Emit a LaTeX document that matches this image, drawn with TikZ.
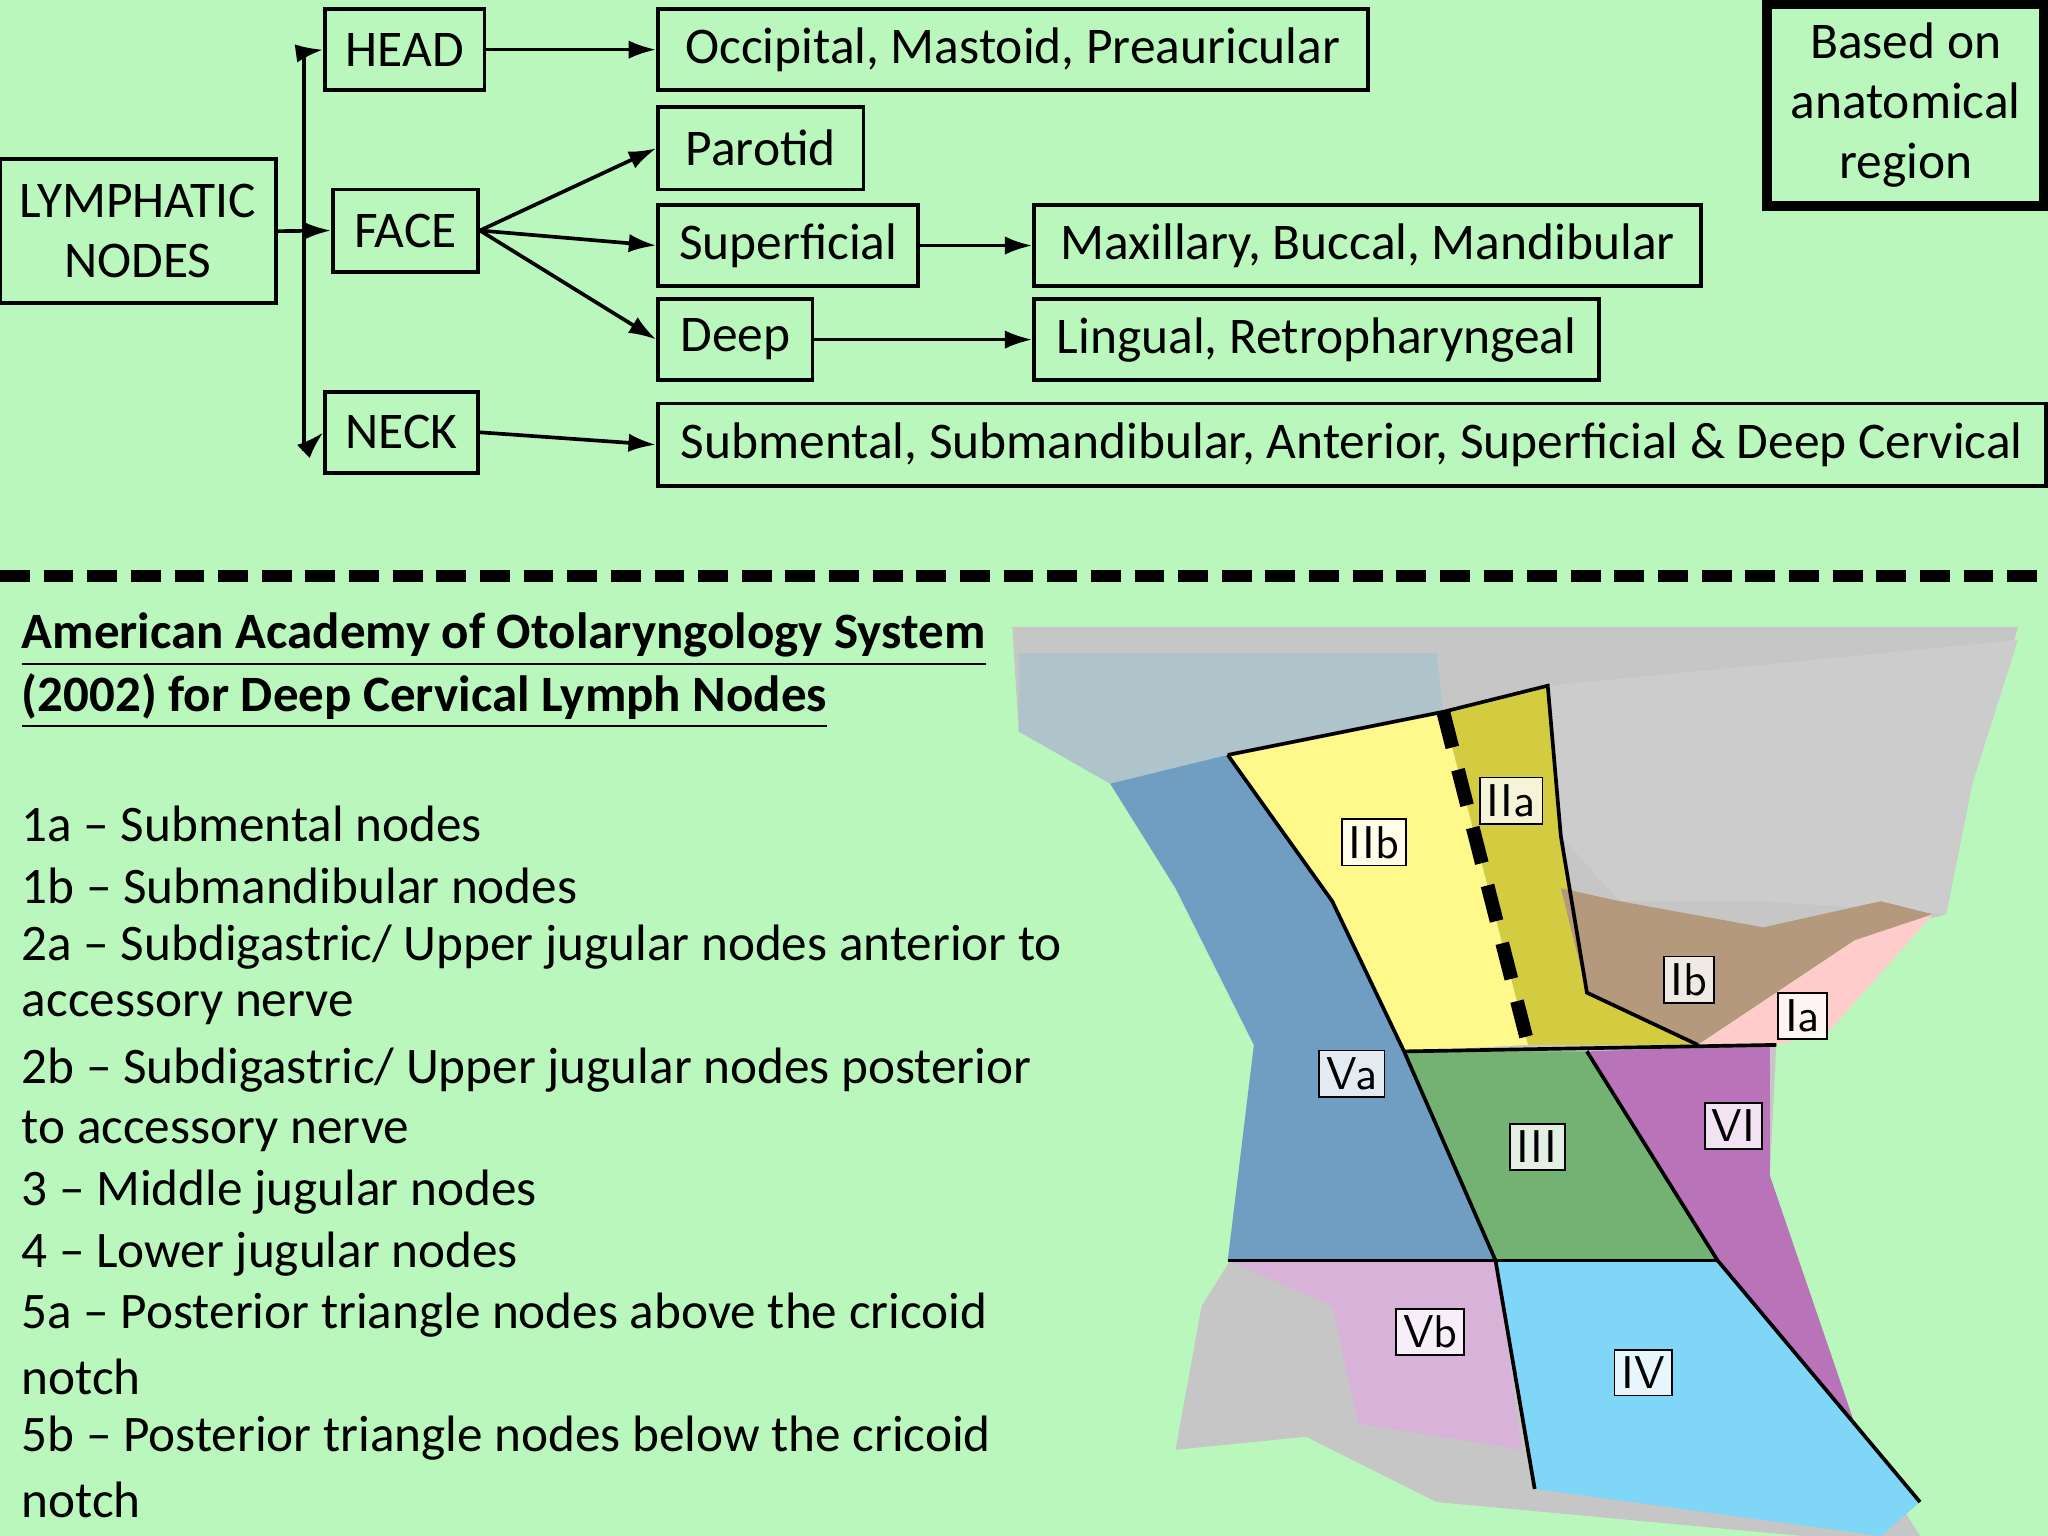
\documentclass[tikz,border=0pt]{standalone}
\usepackage{fontspec}
\setmainfont{Carlito}
\usetikzlibrary{arrows.meta}
\definecolor{bg}{RGB}{186,247,188}
\begin{document}
\begin{tikzpicture}[x=0.01cm,y=-0.01cm,
 bx/.style={draw,thick,inner sep=0,font=\fontsize{11.2}{13}\selectfont},
 ar/.style={-{Latex[length=6pt,width=4pt]},thick},
 lab/.style={draw,fill=white,fill opacity=0.8,text opacity=1,inner sep=1.5pt,font=\sffamily\fontsize{10}{12}\selectfont},
 lst/.style={anchor=west,font=\fontsize{11.15}{13}\selectfont,inner sep=0}]
\fill[bg] (0,0) rectangle (1568,1176);
\useasboundingbox (0,0) rectangle (1568,1176);
% tree
\node[bx,minimum width=2.11cm,minimum height=1.1cm,align=center] (ly) at (105.5,177) {LYMPHATIC\\NODES};
\node[bx,minimum width=1.22cm,minimum height=0.62cm] (head) at (310,38) {HEAD};
\node[bx,minimum width=1.11cm,minimum height=0.63cm] (face) at (310.5,176.5) {FACE};
\node[bx,minimum width=1.17cm,minimum height=0.62cm] (neck) at (307.5,331) {NECK};
\node[bx,minimum width=5.43cm,minimum height=0.62cm] (occ) at (775.5,38) {Occipital, Mastoid, Preauricular};
\node[bx,minimum width=1.57cm,minimum height=0.63cm] (par) at (582.5,113.5) {Parotid};
\node[bx,minimum width=1.99cm,minimum height=0.62cm] (sup) at (603.5,188) {Superficial};
\node[bx,minimum width=1.18cm,minimum height=0.62cm] (deep) at (563,260) {Deep};
\node[bx,minimum width=5.10cm,minimum height=0.62cm] (max) at (1047,188) {Maxillary, Buccal, Mandibular};
\node[bx,minimum width=4.32cm,minimum height=0.62cm] (lin) at (1008,260) {Lingual, Retropharyngeal};
\node[bx,minimum width=10.62cm,minimum height=0.63cm] (sub) at (1035,340.5) {Submental, Submandibular, Anterior, Superficial \& Deep Cervical};
\node[draw,line width=2.2pt,minimum width=2.12cm,minimum height=1.55cm,align=center,inner sep=0,font=\fontsize{11.2}{13}\selectfont] (based) at (1459,80.5) {Based on\\anatomical\\region};
\draw[ar] (ly.east) -- (face.west);
\draw[thick] (233,40) -- (233,345);
\draw[ar] (233,40) -- (head.west);
\draw[ar] (233,345) -- (neck.west);
\draw[ar] (head.east) -- (occ.west);
\draw[ar] (face.east) -- (par.west);
\draw[ar] (face.east) -- (sup.west);
\draw[ar] (face.east) -- (deep.west);
\draw[ar] (sup.east) -- (max.west);
\draw[ar] (deep.east) -- (lin.west);
\draw[ar] (neck.east) -- (sub.west);
% dashed separator
\draw[line width=2.5pt,dash pattern=on 6.5pt off 3pt] (0,441) -- (1568,441);
% title and list
\node[lst,font=\bfseries\fontsize{11.1}{13}\selectfont] (t1) at (16,490) {\underline{American Academy of Otolaryngology System}};
\node[lst,font=\bfseries\fontsize{11.1}{13}\selectfont] (t2) at (16,537) {\underline{(2002) for Deep Cervical Lymph Nodes}};
\foreach \y/\t in {631/{1a – Submental nodes},678/{1b – Submandibular nodes},725/{2a – Subdigastric/ Upper jugular nodes anterior to},772/{accessory nerve},819/{2b – Subdigastric/ Upper jugular nodes posterior},866/{to accessory nerve},913/{3 – Middle jugular nodes},960/{4 – Lower jugular nodes},1007/{5a – Posterior triangle nodes above the cricoid},1054/{notch},1101/{5b – Posterior triangle nodes below the cricoid},1148/{notch}}
  \node[lst] at (16,\y) {\t};
% illustration
\fill[gray!45] (775,480)--(1545,480)--(1510,600)--(1490,700)--(1470,705)--(1360,800)--(1355,900)--(1410,1080)--(1470,1176)--(1380,1176)--(1100,1150)--(1000,1100)--(900,1110)--(920,1000)--(970,920)--(960,800)--(900,680)--(850,600)--(780,560)--cycle;
\fill[white!60!gray] (1185,525)--(1545,490)--(1510,600)--(1490,700)--(1350,690)--(1240,690)--(1195,640)--cycle;
\fill[cyan!25!gray!60] (780,500)--(1100,500)--(1105,545)--(940,578)--(850,600)--(780,560)--cycle;
\fill[yellow!45] (940,578)--(1105,545)--(1170,800)--(1075,805)--(1020,690)--cycle;
\fill[olive!55!yellow!70] (1105,545)--(1185,525)--(1195,640)--(1215,760)--(1300,800)--(1170,800)--cycle;
\fill[brown!55!gray!80] (1195,680)--(1215,760)--(1300,800)--(1420,720)--(1480,700)--(1440,690)--(1350,710)--(1240,690)--cycle;
\fill[red!20] (1300,800)--(1420,720)--(1480,700)--(1400,790)--(1360,800)--cycle;
\fill[blue!45!cyan!40!gray!80] (940,578)--(1020,690)--(1075,805)--(1145,965)--(940,965)--(960,800)--(900,680)--(850,600)--cycle;
\fill[green!45!black!55] (1075,805)--(1215,805)--(1315,965)--(1145,965)--cycle;
\fill[violet!55] (1215,805)--(1355,800)--(1355,900)--(1420,1090)--(1315,965)--cycle;
\fill[violet!30] (940,965)--(1145,965)--(1165,1110)--(1040,1090)--(1020,1000)--cycle;
\fill[cyan!50] (1145,965)--(1315,965)--(1420,1090)--(1470,1150)--(1440,1176)--(1175,1140)--cycle;
\draw[thick] (940,578)--(1020,690)--(1075,805)--(1145,965)--(1175,1140);
\draw[thick] (1105,545)--(940,578) (1105,545)--(1185,525)--(1195,640)--(1215,760)--(1300,800);
\draw[thick] (1075,805)--(1360,800) (1215,805)--(1315,965)--(1470,1150);
\draw[thick] (940,965)--(1315,965);
\draw[line width=3pt,dash pattern=on 8pt off 5pt] (1105,545)--(1170,800);
\node[lab] (l1) at (1052,645) {IIb};
\node[lab] (l2) at (1157,613) {IIa};
\node[lab] (l3) at (1293,750) {Ib};
\node[lab] (l4) at (1380,778) {Ia};
\node[lab] (l5) at (1035,822) {Va};
\node[lab] (l6) at (1177,878) {III};
\node[lab] (l7) at (1327,862) {VI};
\node[lab] (l8) at (1095,1020) {Vb};
\node[lab] (l9) at (1258,1051) {IV};
\end{tikzpicture}
\end{document}
